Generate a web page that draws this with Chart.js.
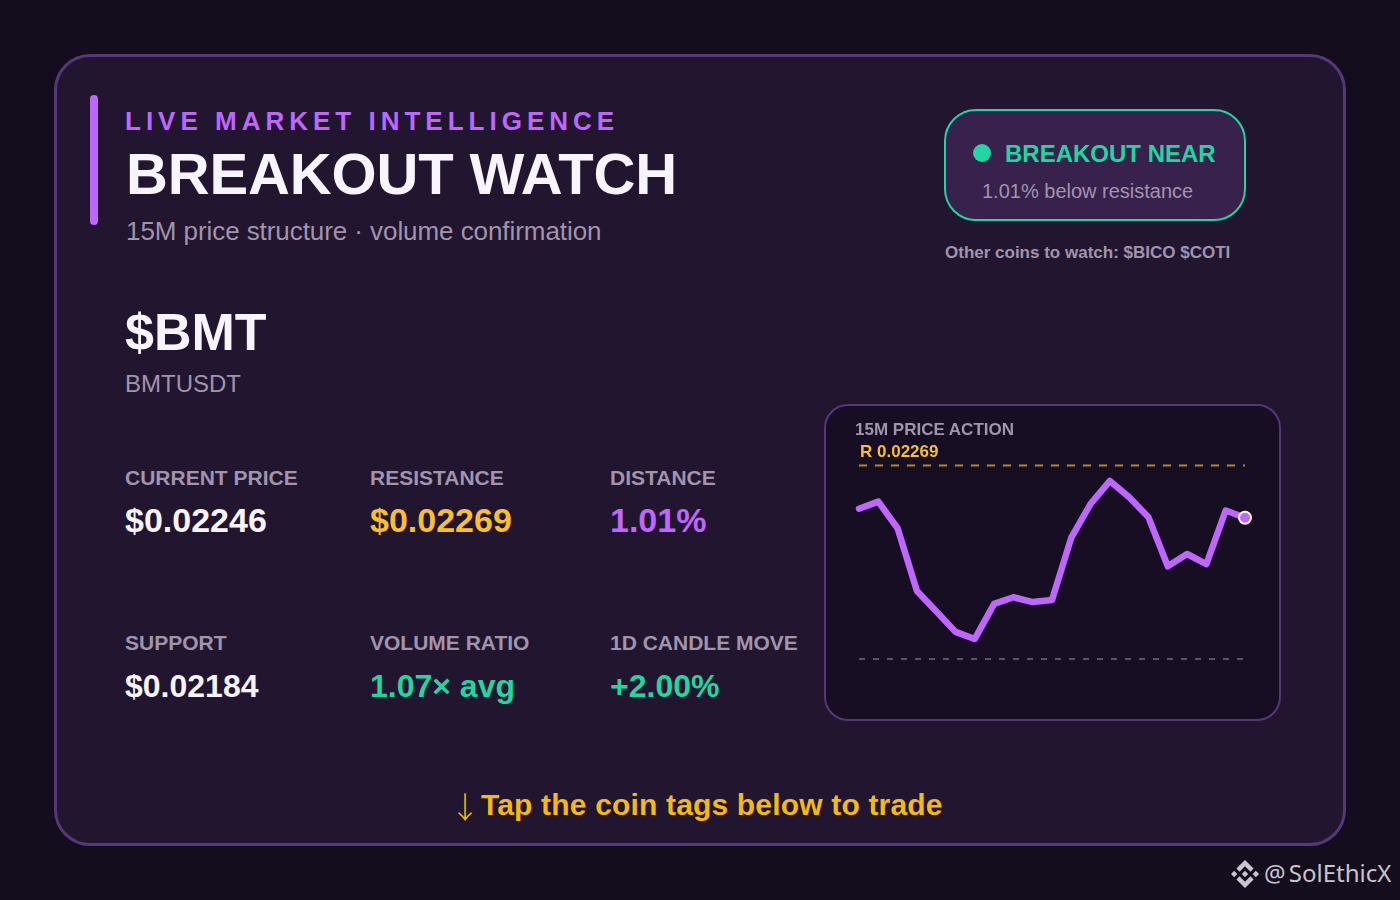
<!DOCTYPE html>
<html><head><meta charset="utf-8">
<script src="https://cdn.jsdelivr.net/npm/chart.js@4"></script>
<style>
html,body{margin:0;padding:0;width:1400px;height:900px;overflow:hidden;background:#130d1d;font-family:"Liberation Sans",Arial,sans-serif}
#card{position:absolute;left:54px;top:54px;width:1286px;height:786px;border:3px solid #573779;border-radius:36px;background:#22152f}
#bar{position:absolute;left:90px;top:95px;width:8px;height:130px;border-radius:4px;background:#bf66ff}
.t{position:absolute;white-space:nowrap;line-height:1}
#badge{position:absolute;left:944px;top:109px;width:298px;height:108px;border:2px solid #22d6a0;border-radius:32px;background:#38214d}
#dot{position:absolute;left:973px;top:144px;width:18px;height:18px;border-radius:50%;background:#22d6a0}
#panel{position:absolute;left:824px;top:404px;width:453px;height:313px;border:2px solid #573779;border-radius:24px;background:#170e24}
#wrap{position:absolute;left:826px;top:406px;width:454px;height:314px}
.lab{font-size:21px;font-weight:700;color:#a194ad}
.v1{font-size:34px;font-weight:700}
.v2{font-size:32px;font-weight:700}
</style></head><body>
<div id="card"></div><div id="bar"></div>
<div class="t" style="left:125px;top:108px;font-size:26px;font-weight:700;letter-spacing:5px;color:#bf66ff">LIVE MARKET INTELLIGENCE</div>
<div class="t" style="left:126px;top:145px;font-size:58px;font-weight:700;letter-spacing:-0.15px;color:#f7f4fb">BREAKOUT WATCH</div>
<div class="t" style="left:126px;top:218px;font-size:26px;letter-spacing:-0.07px;color:#a194ad">15M price structure · volume confirmation</div>
<div id="badge"></div><div id="dot"></div>
<div class="t" style="left:1005px;top:142px;font-size:24px;font-weight:700;color:#22d6a0">BREAKOUT NEAR</div>
<div class="t" style="left:982px;top:181px;font-size:20px;color:#a194ad">1.01% below resistance</div>
<div class="t" style="left:945px;top:244px;font-size:17px;font-weight:700;color:#a194ad">Other coins to watch: $BICO $COTI</div>
<div class="t" style="left:125px;top:306px;font-size:52px;font-weight:700;color:#f7f4fb">$BMT</div>
<div class="t" style="left:125px;top:372px;font-size:24px;color:#a194ad">BMTUSDT</div>
<div class="t lab" style="left:125px;top:467px">CURRENT PRICE</div>
<div class="t v1" style="left:125px;top:503px;color:#f7f4fb">$0.02246</div>
<div class="t lab" style="left:370px;top:467px">RESISTANCE</div>
<div class="t v1" style="left:370px;top:503px;color:#f8bf2e">$0.02269</div>
<div class="t lab" style="left:610px;top:467px">DISTANCE</div>
<div class="t v1" style="left:610px;top:503px;color:#bf66ff">1.01%</div>
<div class="t lab" style="left:125px;top:632px">SUPPORT</div>
<div class="t v2" style="left:125px;top:670px;color:#f7f4fb">$0.02184</div>
<div class="t lab" style="left:370px;top:632px">VOLUME RATIO</div>
<div class="t v2" style="left:370px;top:670px;color:#22d6a0">1.07× avg</div>
<div class="t lab" style="left:610px;top:632px">1D CANDLE MOVE</div>
<div class="t v2" style="left:610px;top:670px;color:#22d6a0">+2.00%</div>
<div class="t" style="left:450px;top:790px;font-size:30px;font-weight:300;font-family:'Noto Sans CJK SC';color:#f5b90f">↓</div>
<div class="t" style="left:481px;top:790px;font-size:30px;font-weight:700;letter-spacing:0.17px;color:#f5b90f">Tap the coin tags below to trade</div>
<div id="panel"></div>
<div id="wrap"><canvas id="c" width="454" height="314"></canvas></div>
<div class="t" style="left:855px;top:421px;font-size:17px;font-weight:700;color:#a194ad">15M PRICE ACTION</div>
<div class="t" style="left:860px;top:443px;font-size:17px;font-weight:700;color:#f8bf2e">R 0.02269</div>
<svg style="position:absolute;left:1231px;top:860px" width="28" height="28" viewBox="0 0 126.61 126.61" fill="#c9c4cd">
<path d="M38.73 53.2l24.59-24.58 24.6 24.6 14.3-14.31L63.32 0 24.43 38.9zM0 63.31l14.3-14.31 14.31 14.31-14.31 14.3zM38.73 73.41l24.59 24.59 24.6-24.6 14.31 14.29-38.9 38.91-38.91-38.88zM98 63.31l14.3-14.31 14.31 14.3-14.31 14.3zM77.83 63.3L63.32 48.78 52.59 59.51l-1.24 1.23-2.54 2.54 14.51 14.5 14.51-14.47z"/></svg>
<div class="t" style="left:1264px;top:861px;font-size:24px;font-family:'Noto Sans';word-spacing:-3px;color:#c9c4cd">@ SolEthicX</div>
<script>
const bars = ['0','1','2','3','4','5','6','7','8','9','10','11','12','13','14','15','16','17','18','19','20'];
const priceValues = [0.022500,0.022531,0.022414,0.022139,0.022050,0.021959,0.021928,0.022082,0.022111,0.022090,0.022099,0.022373,0.022521,0.022622,0.022550,0.022462,0.022247,0.022301,0.022257,0.022492,0.022460];
const resistanceLevel = 0.02269;
const supportLevel = 0.02184;
const yAxisMax = 0.022951;
const yAxisMin = 0.021572;
const resistanceValues = bars.map(() => resistanceLevel);
const supportValues = bars.map(() => supportLevel);
const lastIndex = bars.length - 1;
new Chart(document.getElementById('c'), {
  type: 'line',
  data: { labels: bars, datasets: [
    { data: resistanceValues, borderColor: 'rgba(248,191,46,0.7)', borderWidth: 2, borderDash: [8,8], pointRadius: 0, fill: false, tension: 0 },
    { data: supportValues, borderColor: 'rgba(165,148,176,0.5)', borderWidth: 2, borderDash: [6,8], pointRadius: 0, fill: false, tension: 0 },
    { data: priceValues, borderColor: '#bf66ff', borderWidth: 6.5, tension: 0, fill: false, borderJoinStyle: 'round', borderCapStyle: 'round',
      pointRadius: ctx => ctx.dataIndex === lastIndex ? 6 : 0,
      pointBackgroundColor: '#bf66ff', pointBorderColor: '#ffffff', pointBorderWidth: 2 }
  ]},
  options: {
    responsive: false, animation: false, events: [],
    layout: { autoPadding: false, padding: { left: 33, right: 35, top: 0, bottom: 0 } },
    plugins: { legend: { display: false }, tooltip: { enabled: false } },
    scales: {
      x: { display: false, offset: false },
      y: { display: false, min: yAxisMin, max: yAxisMax }
    }
  }
});
</script>
</body></html>
